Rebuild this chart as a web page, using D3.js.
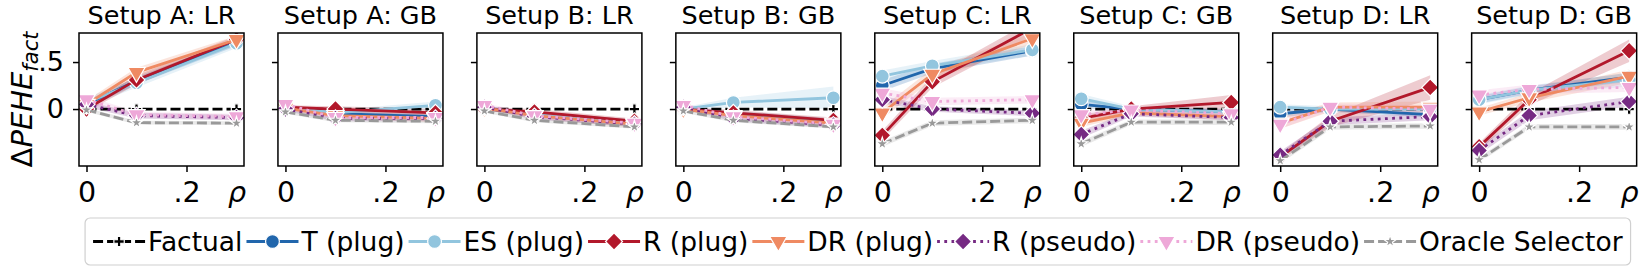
<!DOCTYPE html>
<html>
<head>
<meta charset="utf-8">
<script src="https://cdn.jsdelivr.net/npm/d3@7"></script>
<style>
body { margin: 0; background: #fff; }
svg text { font-family: "DejaVu Sans", sans-serif; fill: #000; }
</style>
</head>
<body>
<svg id="chart" width="1648" height="268"></svg>
<script>
// ---- data ----
const panelTitles = ["Setup A: LR", "Setup A: GB", "Setup B: LR", "Setup B: GB",
                     "Setup C: LR", "Setup C: GB", "Setup D: LR", "Setup D: GB"];
const rhoValues = [0, 0.1, 0.3];
const xTickValues = [0, 0.2, 0.3];
const xTickLabels = ["0", ".2", "ρ"];
const yTickValues = [0, 0.5];
const yTickLabels = ["0", ".5"];
const seriesNames = ["Factual", "T (plug)", "ES (plug)", "R (plug)", "DR (plug)",
                     "R (pseudo)", "DR (pseudo)", "Oracle Selector"];

// one row per panel, values at rho = 0, .1, .3
const factual = [[0,0,0],[0,0,0],[0,0,0],[0,0,0],[0,0,0],[0,0,0],[0,0,0],[0,0,0]];
const tPlug = [[0.05,0.30,0.71],[0.02,-0.05,-0.08],[0.01,-0.06,-0.14],[0.0,-0.05,-0.13],
               [0.25,0.43,0.62],[0.05,0.0,-0.03],[-0.05,0.0,-0.06],[0.10,0.20,0.34]];
const esPlug = [[0.07,0.28,0.70],[0.02,-0.04,0.04],[0.01,-0.05,-0.15],[0.0,0.07,0.12],
                [0.35,0.46,0.63],[0.11,0.0,-0.03],[0.02,0.0,0.0],[0.10,0.20,0.31]];
const rPlug = [[0.0,0.31,0.74],[0.02,0.0,-0.04],[0.0,-0.03,-0.13],[0.0,-0.04,-0.12],
               [-0.28,0.29,0.86],[-0.10,0.0,0.07],[-0.51,-0.13,0.23],[-0.40,0.10,0.62]];
const drPlug = [[0.05,0.39,0.74],[0.01,-0.07,-0.10],[0.01,-0.07,-0.16],[0.0,-0.07,-0.15],
                [-0.04,0.37,0.75],[-0.15,-0.04,-0.08],[-0.15,0.02,0.02],[-0.03,0.12,0.35]];
const rPseudo = [[0.05,-0.07,-0.09],[0.0,-0.10,-0.10],[0.02,-0.08,-0.16],[0.02,-0.10,-0.17],
                 [0.10,0.0,-0.045],[-0.27,-0.05,-0.09],[-0.49,-0.13,-0.08],[-0.44,-0.07,0.08]];
const drPseudo = [[0.10,-0.06,-0.08],[0.05,-0.09,-0.09],[0.04,-0.07,-0.15],[0.04,-0.08,-0.16],
                  [0.17,0.08,0.10],[-0.06,-0.01,-0.05],[-0.16,0.02,0.0],[0.15,0.21,0.23]];
const oracle = [[-0.01,-0.145,-0.15],[-0.03,-0.12,-0.13],[-0.02,-0.12,-0.19],[-0.02,-0.12,-0.19],
                [-0.37,-0.15,-0.12],[-0.37,-0.14,-0.14],[-0.55,-0.19,-0.18],[-0.54,-0.19,-0.19]];

// confidence band half-widths, same layout
const factualBand = [[0,0,0],[0,0,0],[0,0,0],[0,0,0],[0,0,0],[0,0,0],[0,0,0],[0,0,0]];
const tPlugBand = [[0.04,0.04,0.04],[0.02,0.02,0.03],[0.02,0.03,0.03],[0.02,0.03,0.03],
                   [0.06,0.05,0.05],[0.04,0.02,0.03],[0.04,0.03,0.03],[0.04,0.04,0.05]];
const esPlugBand = [[0.05,0.05,0.05],[0.02,0.03,0.04],[0.02,0.03,0.04],[0.02,0.05,0.12],
                    [0.06,0.05,0.06],[0.05,0.03,0.03],[0.03,0.03,0.03],[0.05,0.05,0.07]];
const rPlugBand = [[0.03,0.05,0.04],[0.02,0.03,0.04],[0.02,0.03,0.03],[0.02,0.03,0.03],
                   [0.05,0.06,0.08],[0.04,0.03,0.08],[0.04,0.06,0.13],[0.04,0.06,0.12]];
const drPlugBand = [[0.04,0.05,0.04],[0.02,0.03,0.04],[0.02,0.03,0.04],[0.02,0.03,0.04],
                    [0.06,0.06,0.06],[0.04,0.03,0.04],[0.06,0.05,0.06],[0.04,0.05,0.07]];
const rPseudoBand = [[0.03,0.03,0.03],[0.02,0.03,0.03],[0.02,0.03,0.03],[0.02,0.03,0.03],
                     [0.04,0.03,0.03],[0.04,0.03,0.03],[0.04,0.04,0.04],[0.04,0.05,0.05]];
const drPseudoBand = [[0.04,0.03,0.03],[0.02,0.03,0.03],[0.02,0.03,0.03],[0.02,0.03,0.03],
                      [0.05,0.04,0.04],[0.04,0.03,0.03],[0.05,0.04,0.04],[0.05,0.05,0.05]];
const oracleBand = [[0.02,0.02,0.02],[0.02,0.02,0.02],[0.02,0.02,0.02],[0.02,0.02,0.02],
                    [0.03,0.03,0.03],[0.03,0.03,0.03],[0.03,0.03,0.03],[0.03,0.03,0.03]];

const seriesValues = [factual, tPlug, esPlug, rPlug, drPlug, rPseudo, drPseudo, oracle];
const seriesBands = [factualBand, tPlugBand, esPlugBand, rPlugBand, drPlugBand,
                     rPseudoBand, drPseudoBand, oracleBand];

// ---- styles ----
const styles = {
    "Factual":         {color: "#000000", dash: "10,4",  width: 2.8, marker: "plus"},
    "T (plug)":        {color: "#2166ac", dash: null,    width: 2.8, marker: "circle"},
    "ES (plug)":       {color: "#92c5de", dash: null,    width: 2.8, marker: "circle"},
    "R (plug)":        {color: "#b2182b", dash: null,    width: 2.8, marker: "diamond"},
    "DR (plug)":       {color: "#ef8a62", dash: null,    width: 2.8, marker: "triDown"},
    "R (pseudo)":      {color: "#762a83", dash: "2.8,4.4", width: 2.8, marker: "diamond"},
    "DR (pseudo)":     {color: "#eea8d8", dash: "2.8,4.4", width: 2.8, marker: "triDown"},
    "Oracle Selector": {color: "#999999", dash: "10,4",  width: 2.8, marker: "star"}
};

function markerPath(kind) {
    if (kind === "circle") return d3.symbol(d3.symbolCircle, 150)();
    if (kind === "diamond") return d3.symbol(d3.symbolSquare, 145)();
    if (kind === "triDown") return d3.symbol(d3.symbolTriangle, 130)();
    if (kind === "plus") return d3.symbol(d3.symbolCross, 60)();
    return d3.symbol(d3.symbolStar, 50)();
}
function markerRotate(kind) {
    if (kind === "diamond") return 45;
    if (kind === "triDown") return 180;
    return 0;
}

// ---- layout ----
const svg = d3.select("#chart");
const panelLeft = 79, panelStep = 198.95, panelW = 165, panelTop = 33, panelH = 133;
const titleSize = 25.5, tickSize = 27, legendSize = 26.5;

const x = d3.scaleLinear().domain([-0.015, 0.315]).range([0, panelW]);
const y = d3.scaleLinear().domain([-0.606, 0.809]).range([panelH, 0]);

const line = d3.line().x((d, i) => x(rhoValues[i])).y(d => y(d));

panelTitles.forEach(function (title, p) {
    const g = svg.append("g")
        .attr("transform", `translate(${panelLeft + p * panelStep},${panelTop})`);

    g.append("clipPath").attr("id", "clip" + p)
        .append("rect").attr("width", panelW).attr("height", panelH);

    const plot = g.append("g").attr("clip-path", `url(#clip${p})`);

    seriesNames.forEach(function (name, s) {
        const st = styles[name];
        const vals = seriesValues[s][p];
        const band = seriesBands[s][p];
        const area = d3.area()
            .x((d, i) => x(rhoValues[i]))
            .y0((d, i) => y(d - band[i]))
            .y1((d, i) => y(d + band[i]));
        if (d3.max(band) > 0) {
            plot.append("path").datum(vals)
                .attr("d", area)
                .attr("fill", st.color)
                .attr("fill-opacity", 0.22);
        }
    });

    seriesNames.forEach(function (name, s) {
        const st = styles[name];
        const vals = seriesValues[s][p];
        plot.append("path").datum(vals)
            .attr("d", line)
            .attr("fill", "none")
            .attr("stroke", st.color)
            .attr("stroke-width", st.width)
            .attr("stroke-dasharray", st.dash);
        plot.selectAll(null).data(vals).enter().append("path")
            .attr("d", markerPath(st.marker))
            .attr("transform", (d, i) => `translate(${x(rhoValues[i])},${y(d)}) rotate(${markerRotate(st.marker)})`)
            .attr("fill", st.color)
            .attr("stroke", "#fff")
            .attr("stroke-width", 1.2);
    });

    // axes
    const yAxis = d3.axisLeft(y).tickValues(yTickValues).tickSize(6).tickPadding(9)
        .tickFormat((d, i) => p === 0 ? yTickLabels[i] : "");
    const gy = g.append("g").call(yAxis);

    const xAxis = d3.axisBottom(x).tickValues(xTickValues).tickSize(6).tickPadding(10)
        .tickFormat((d, i) => xTickLabels[i]);
    const gx = g.append("g").attr("transform", `translate(0,${panelH})`).call(xAxis);
    gx.selectAll(".tick").filter(d => d === 0.3).select("line").remove();
    gx.selectAll(".tick").filter(d => d === 0.3).select("text")
        .style("font-style", "italic").attr("font-size", 28.5);

    [gx, gy].forEach(function (a) {
        a.select(".domain").remove();
        a.selectAll(".tick line").attr("stroke", "#000").attr("stroke-width", 1.5);
        a.selectAll(".tick text").attr("font-family", "DejaVu Sans").attr("fill", "#000");
    });
    gy.selectAll(".tick text").attr("font-size", tickSize);
    gx.selectAll(".tick").filter(d => d !== 0.3).select("text").attr("font-size", 28.5);

    g.append("rect").attr("width", panelW).attr("height", panelH)
        .attr("fill", "none").attr("stroke", "#000").attr("stroke-width", 1.5);

    g.append("text")
        .attr("x", panelW / 2).attr("y", -9)
        .attr("text-anchor", "middle")
        .attr("font-size", titleSize)
        .text(title);
});

// y label
const ylab = svg.append("text")
    .attr("transform", `translate(32,${panelTop + panelH / 2}) rotate(-90)`)
    .attr("text-anchor", "middle")
    .attr("font-size", 29);
ylab.append("tspan").text("Δ");
ylab.append("tspan").attr("font-style", "italic").text("PEHE");
ylab.append("tspan").attr("font-style", "italic").attr("font-size", 21).attr("dy", "0.3em").text("fact");

// legend
const legend = svg.append("g");
const legendBox = legend.append("rect");
const handleLen = 52, textPad = 3, colGap = 4, boxPad = 8, legendMid = 241.5;
let cursor = 0;
seriesNames.forEach(function (name) {
    const st = styles[name];
    const item = legend.append("g").attr("transform", `translate(${cursor},${legendMid})`);
    item.append("line").attr("x1", 0).attr("x2", handleLen)
        .attr("stroke", st.color).attr("stroke-width", st.width)
        .attr("stroke-dasharray", st.dash);
    item.append("path").attr("d", markerPath(st.marker))
        .attr("transform", `translate(${handleLen / 2},0) rotate(${markerRotate(st.marker)})`)
        .attr("fill", st.color).attr("stroke", "#fff").attr("stroke-width", 1.2);
    const t = item.append("text").attr("x", handleLen + textPad).attr("dy", "0.35em")
        .attr("font-size", legendSize).text(name);
    cursor += handleLen + textPad + t.node().getComputedTextLength() + colGap;
});
cursor -= colGap;
const legendCenter = panelLeft + (7 * panelStep + panelW) / 2;
const legendX = legendCenter - cursor / 2;
legend.attr("transform", `translate(${legendX},0)`);
legendBox.attr("x", -boxPad).attr("y", 218).attr("width", cursor + 2 * boxPad).attr("height", 47)
    .attr("rx", 5).attr("fill", "#fff").attr("stroke", "#d0d0d0").attr("stroke-width", 1.2);
</script>
</body>
</html>
